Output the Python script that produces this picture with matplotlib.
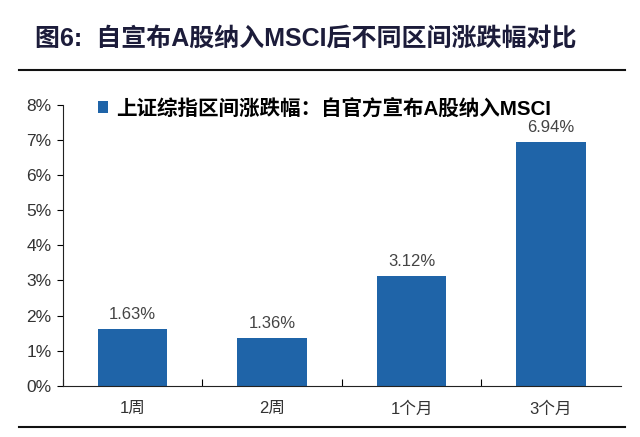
import matplotlib
matplotlib.use("Agg")
import matplotlib.pyplot as plt
from matplotlib.ticker import PercentFormatter
from matplotlib.lines import Line2D

plt.rcParams['font.family'] = ['Liberation Sans', 'Noto Sans CJK SC', 'DejaVu Sans']

# 数据
periods = ["1周", "2周", "1个月", "3个月"]
changes = [1.63, 1.36, 3.12, 6.94]
yticks = [0, 1, 2, 3, 4, 5, 6, 7, 8]
legend_label = "上证综指区间涨跌幅：自官方宣布A股纳入MSCI"
title = "图6:  自宣布A股纳入MSCI后不同区间涨跌幅对比"

bar_color = "#1F64A8"

fig = plt.figure(figsize=(6.4, 4.37), dpi=100)
ax = fig.add_axes([0.098, 0.117, 0.872, 0.643])

x = range(len(periods))
bars = ax.bar(x, changes, width=0.5, color=bar_color, label=legend_label)
for xi, v in zip(x, changes):
    ax.text(xi, v + 0.2, "{:.2f}%".format(v), ha="center", va="bottom",
            fontsize=12, color="#444444")

ax.set_xlim(-0.5, len(periods) - 0.5)
ax.set_ylim(0, 8)
ax.set_yticks(yticks)
ax.yaxis.set_major_formatter(PercentFormatter(decimals=0))
ax.set_xticks([i + 0.5 for i in range(len(periods) - 1)] + [-0.5])
ax.set_xticklabels([])
ax.set_xticks(list(x), minor=True)
ax.set_xticklabels(periods, minor=True)
ax.tick_params(axis="x", which="minor", length=0, pad=11, labelsize=12,
               labelcolor="#333333")
ax.tick_params(axis="x", which="major", length=5, direction="in")
ax.tick_params(axis="y", length=4, direction="out", labelsize=12.5, pad=4,
               labelcolor="#333333")
ax.spines["top"].set_visible(False)
ax.spines["right"].set_visible(False)
ax.spines["left"].set_color("#222222")
ax.spines["bottom"].set_color("#222222")

leg = ax.legend(loc="upper left", bbox_to_anchor=(0.03, 1.09), frameon=False,
                handlelength=0.5, handleheight=0.5, handletextpad=0.4,
                prop={"weight": "bold", "size": 14.8})

fig.text(0.055, 0.91, title, fontsize=18, fontweight="bold", color="#1c1c3a",
         ha="left", va="center")
fig.add_artist(Line2D([0.03, 0.977], [0.84, 0.84], color="#111111", lw=1.5))
fig.add_artist(Line2D([0.03, 0.977], [0.022, 0.022], color="#111111", lw=1.5))

fig.savefig("out.png", dpi=100)
